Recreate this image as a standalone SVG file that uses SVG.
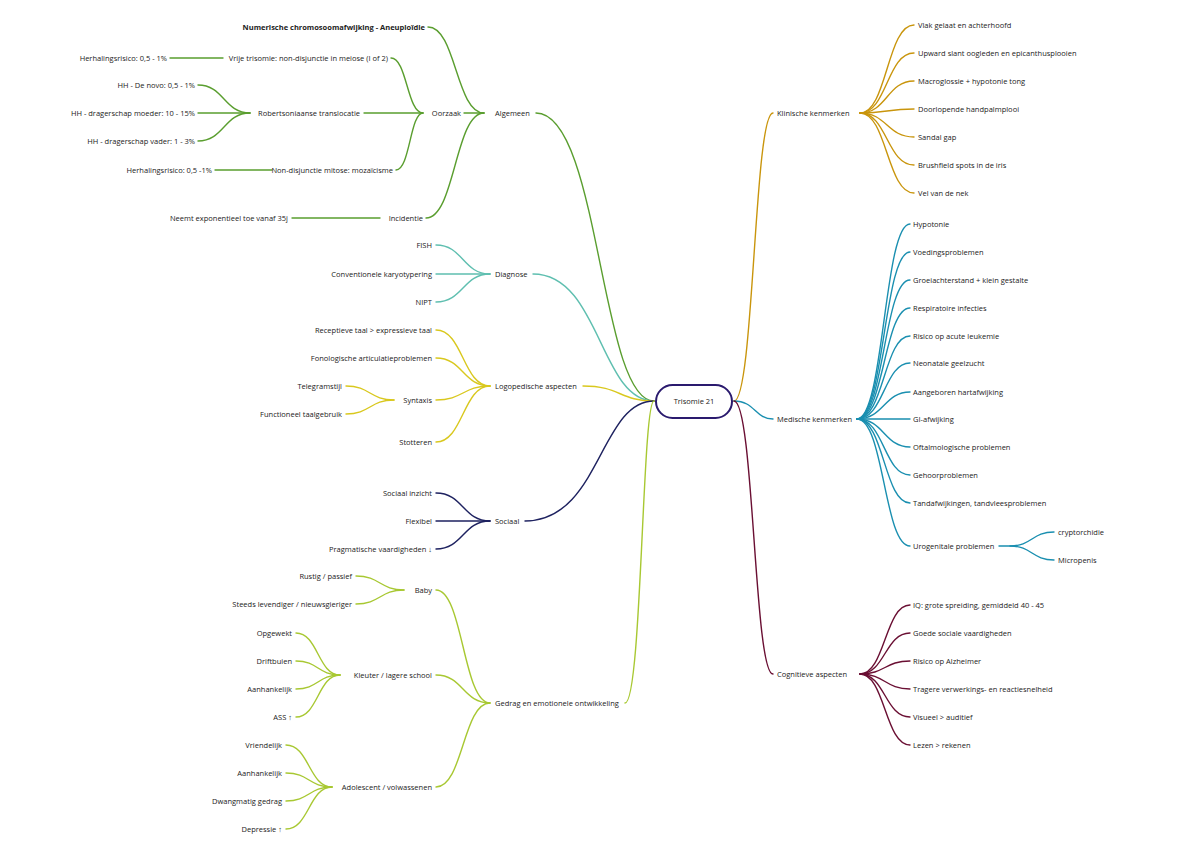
<svg xmlns="http://www.w3.org/2000/svg" width="1200" height="848" viewBox="0 0 1200 848">
<style>
text{font-family:"Open Sans","Liberation Sans",sans-serif;font-size:7.5px;fill:#222}
.l{text-anchor:end}
.b{font-weight:bold}
path{fill:none;stroke-width:1.4;stroke-linecap:round}
.g path{stroke:#5a9e2f}.t path{stroke:#5fbfb0}.y path{stroke:#d9c81e}.n path{stroke:#1e2260}
.e path{stroke:#a8c832}.k path{stroke:#c9950c}.m path{stroke:#1a8fb0}.c path{stroke:#6a0f33}
</style>
<rect width="1200" height="848" fill="#fff"/>
<g id="connectors">
<g class="g">
<path d="M536 113 C600 113,600 401,654 401"/>
<path d="M428 27 C456 27,456 113,484 113"/>
<path d="M464 113 L484 113"/>
<path d="M426 218 C455 218,455 113,484 113"/>
<path d="M292 218 L380 218"/>
<path d="M391 58 C407 58,407 113,423 113"/>
<path d="M364 113 L423 113"/>
<path d="M396 170 C410 170,410 113,423 113"/>
<path d="M170 58 L223 58"/>
<path d="M198 85 C224 85,224 113,250 113"/>
<path d="M198 113 L250 113"/>
<path d="M198 141 C224 141,224 113,250 113"/>
<path d="M215 170 L272 170"/>
</g>
<g class="t">
<path d="M533 274 C600 274,600 401,654 401"/>
<path d="M436 245 C463 245,463 274,490 274"/>
<path d="M436 274 L490 274"/>
<path d="M436 302 C463 302,463 274,490 274"/>
</g>
<g class="y">
<path d="M583 386 C620 386,620 401,654 401"/>
<path d="M436 330 C463 330,463 386,490 386"/>
<path d="M436 358 C463 358,463 386,490 386"/>
<path d="M436 400 C463 400,463 386,490 386"/>
<path d="M436 442 C463 442,463 386,490 386"/>
<path d="M346 386 C370 386,370 400,394 400"/>
<path d="M346 414 C370 414,370 400,394 400"/>
</g>
<g class="n">
<path d="M525 521 C600 521,600 401,654 401"/>
<path d="M436 493 C463 493,463 521,490 521"/>
<path d="M436 521 L490 521"/>
<path d="M436 549 C463 549,463 521,490 521"/>
</g>
<g class="e">
<path d="M625 703 C642 703,642 401,654 401"/>
<path d="M436 590 C463 590,463 703,490 703"/>
<path d="M436 675 C463 675,463 703,490 703"/>
<path d="M436 787 C463 787,463 703,490 703"/>
<path d="M356 576 C380 576,380 590,404 590"/>
<path d="M356 604 C380 604,380 590,404 590"/>
<path d="M296 633 C318 633,318 675,340 675"/>
<path d="M296 661 C318 661,318 675,340 675"/>
<path d="M296 689 C318 689,318 675,340 675"/>
<path d="M296 717 C318 717,318 675,340 675"/>
<path d="M286 745 C309 745,309 787,332 787"/>
<path d="M286 773 C309 773,309 787,332 787"/>
<path d="M286 801 C309 801,309 787,332 787"/>
<path d="M286 829 C309 829,309 787,332 787"/>
</g>
<g class="k">
<path d="M734 401 C754 401,754 113,773 113"/>
<path d="M860 113 C887 113,887 25,914 25"/>
<path d="M860 113 C887 113,887 53,914 53"/>
<path d="M860 113 C887 113,887 81,914 81"/>
<path d="M860 113 C887 113,887 109,914 109"/>
<path d="M860 113 C887 113,887 137,914 137"/>
<path d="M860 113 C887 113,887 165,914 165"/>
<path d="M860 113 C887 113,887 193,914 193"/>
</g>
<g class="m">
<path d="M734 401 C755 401,755 419,773 419"/>
<path d="M857 419 C884 419,884 224,910 224"/>
<path d="M857 419 C884 419,884 252,910 252"/>
<path d="M857 419 C884 419,884 280,910 280"/>
<path d="M857 419 C884 419,884 308,910 308"/>
<path d="M857 419 C884 419,884 336,910 336"/>
<path d="M857 419 C884 419,884 363,910 363"/>
<path d="M857 419 C884 419,884 392,910 392"/>
<path d="M857 419 L910 419"/>
<path d="M857 419 C884 419,884 447,910 447"/>
<path d="M857 419 C884 419,884 475,910 475"/>
<path d="M857 419 C884 419,884 503,910 503"/>
<path d="M857 419 C884 419,884 546,910 546"/>
<path d="M999 546 L1010 546 C1032 546,1032 532,1054 532"/>
<path d="M1010 546 C1032 546,1032 560,1054 560"/>
</g>
<g class="c">
<path d="M734 401 C754 401,754 674,773 674"/>
<path d="M860 674 C885 674,885 605,910 605"/>
<path d="M860 674 C885 674,885 633,910 633"/>
<path d="M860 674 C885 674,885 661,910 661"/>
<path d="M860 674 C885 674,885 689,910 689"/>
<path d="M860 674 C885 674,885 717,910 717"/>
<path d="M860 674 C885 674,885 745,910 745"/>
</g>
</g>
<g id="center">
<rect x="656" y="385" width="76" height="33" rx="16.5" fill="#fff" stroke="#2a1a6e" stroke-width="2"/>
<text x="694" y="404" text-anchor="middle">Trisomie 21</text>
</g>
<g id="algemeen">
<text x="425" y="30" class="l b">Numerische chromosoomafwijking - Aneuploïdie</text>
<text x="495" y="116">Algemeen</text>
<text x="461" y="116" class="l">Oorzaak</text>
<text x="423" y="221" class="l">Incidentie</text>
<text x="288" y="221" class="l">Neemt exponentieel toe vanaf 35j</text>
<text x="388" y="61" class="l">Vrije trisomie: non-disjunctie in meiose (I of 2)</text>
<text x="167" y="61" class="l">Herhalingsrisico: 0,5 - 1%</text>
<text x="360" y="116" class="l">Robertsoniaanse translocatie</text>
<text x="195" y="88" class="l">HH - De novo: 0,5 - 1%</text>
<text x="195" y="116" class="l">HH - dragerschap moeder: 10 - 15%</text>
<text x="195" y="144" class="l">HH - dragerschap vader: 1 - 3%</text>
<text x="393" y="173" class="l">Non-disjunctie mitose: mozaïcisme</text>
<text x="212" y="173" class="l">Herhalingsrisico: 0,5 -1%</text>
</g>
<g id="diagnose">
<text x="495" y="277">Diagnose</text>
<text x="432" y="248" class="l">FISH</text>
<text x="432" y="277" class="l">Conventionele karyotypering</text>
<text x="432" y="305" class="l">NIPT</text>
</g>
<g id="logopedie">
<text x="495" y="389">Logopedische aspecten</text>
<text x="432" y="333" class="l">Receptieve taal &gt; expressieve taal</text>
<text x="432" y="361" class="l">Fonologische articulatieproblemen</text>
<text x="432" y="403" class="l">Syntaxis</text>
<text x="432" y="445" class="l">Stotteren</text>
<text x="342" y="389" class="l">Telegramstijl</text>
<text x="342" y="417" class="l">Functioneel taalgebruik</text>
</g>
<g id="sociaal">
<text x="495" y="524">Sociaal</text>
<text x="432" y="496" class="l">Sociaal inzicht</text>
<text x="432" y="524" class="l">Flexibel</text>
<text x="432" y="552" class="l">Pragmatische vaardigheden ↓</text>
</g>
<g id="gedrag">
<text x="495" y="706">Gedrag en emotionele ontwikkeling</text>
<text x="432" y="593" class="l">Baby</text>
<text x="432" y="678" class="l">Kleuter / lagere school</text>
<text x="432" y="790" class="l">Adolescent / volwassenen</text>
<text x="352" y="579" class="l">Rustig / passief</text>
<text x="352" y="607" class="l">Steeds levendiger / nieuwsgieriger</text>
<text x="292" y="636" class="l">Opgewekt</text>
<text x="292" y="664" class="l">Driftbuien</text>
<text x="292" y="692" class="l">Aanhankelijk</text>
<text x="292" y="720" class="l">ASS ↑</text>
<text x="282" y="748" class="l">Vriendelijk</text>
<text x="282" y="776" class="l">Aanhankelijk</text>
<text x="282" y="804" class="l">Dwangmatig gedrag</text>
<text x="282" y="832" class="l">Depressie ↑</text>
</g>
<g id="klinisch">
<text x="777" y="116">Klinische kenmerken</text>
<text x="918" y="28">Vlak gelaat en achterhoofd</text>
<text x="918" y="56">Upward slant oogleden en epicanthusplooien</text>
<text x="918" y="84">Macroglossie + hypotonie tong</text>
<text x="918" y="112">Doorlopende handpalmplooi</text>
<text x="918" y="140">Sandal gap</text>
<text x="918" y="168">Brushfield spots in de iris</text>
<text x="918" y="196">Vel van de nek</text>
</g>
<g id="medisch">
<text x="777" y="422">Medische kenmerken</text>
<text x="913" y="227">Hypotonie</text>
<text x="913" y="255">Voedingsproblemen</text>
<text x="913" y="283">Groeiachterstand + klein gestalte</text>
<text x="913" y="311">Respiratoire infecties</text>
<text x="913" y="339">Risico op acute leukemie</text>
<text x="913" y="366">Neonatale geelzucht</text>
<text x="913" y="395">Aangeboren hartafwijking</text>
<text x="913" y="422">GI-afwijking</text>
<text x="913" y="450">Oftalmologische problemen</text>
<text x="913" y="478">Gehoorproblemen</text>
<text x="913" y="506">Tandafwijkingen, tandvleesproblemen</text>
<text x="913" y="549">Urogenitale problemen</text>
<text x="1058" y="535">cryptorchidie</text>
<text x="1058" y="563">Micropenis</text>
</g>
<g id="cognitief">
<text x="777" y="677">Cognitieve aspecten</text>
<text x="913" y="608">IQ: grote spreiding, gemiddeld 40 - 45</text>
<text x="913" y="636">Goede sociale vaardigheden</text>
<text x="913" y="664">Risico op Alzheimer</text>
<text x="913" y="692">Tragere verwerkings- en reactiesnelheid</text>
<text x="913" y="720">Visueel &gt; auditief</text>
<text x="913" y="748">Lezen &gt; rekenen</text>
</g>
</svg>
